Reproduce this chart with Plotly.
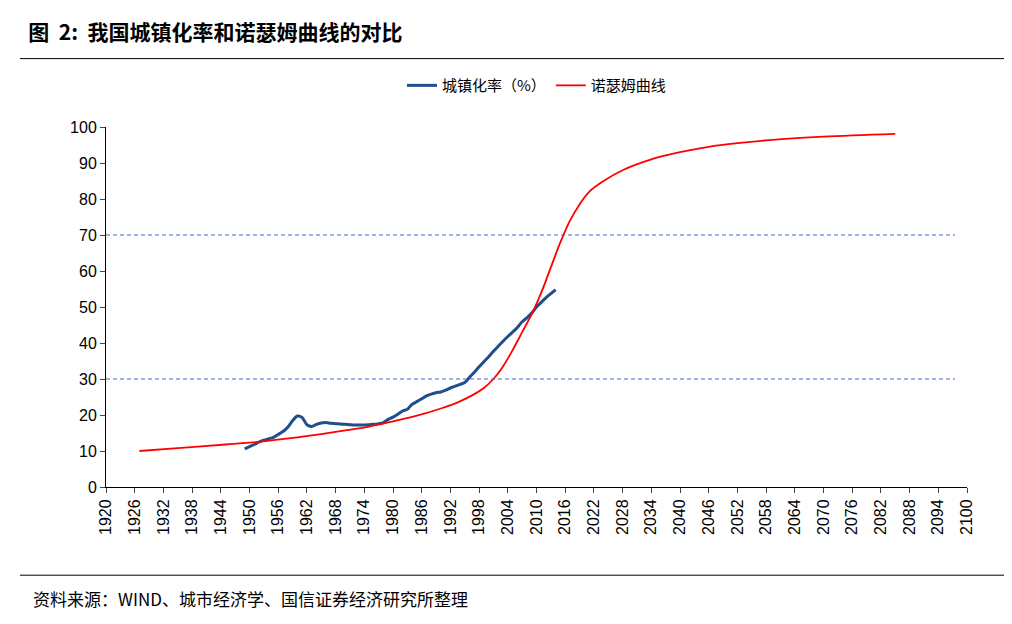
import plotly.graph_objects as go

urb_years = list(range(1949, 2015))
urb_vals = [10.6,11.2,11.8,12.5,13.0,13.4,13.8,14.6,15.4,16.6,18.4,19.7,19.3,17.3,16.8,17.4,17.8,17.9,17.7,17.6,17.5,17.4,17.3,17.2,17.2,17.2,17.3,17.4,17.6,17.9,18.8,19.4,20.2,21.1,21.6,23.0,23.7,24.5,25.3,25.8,26.2,26.4,26.9,27.5,28.0,28.5,29.0,30.5,31.9,33.4,34.8,36.2,37.7,39.1,40.5,41.8,43.0,44.3,45.9,47.0,48.3,50.0,51.3,52.6,53.7,54.8]
nor_years = [1927,1935,1945,1950,1955,1960,1965,1970,1975,1980,1985,1990,1994,1997,1999,2001,2003,2005,2007,2009,2011,2013,2015,2017,2019,2021,2024,2028,2034,2040,2046,2052,2060,2070,2085]
nor_vals = [10,10.8,11.8,12.3,13,13.8,14.7,15.7,16.8,18.2,19.8,21.8,23.8,25.8,27.5,30,33.5,38,43,48,54,61,68,74,78.5,82,85,88,91,93,94.5,95.5,96.5,97.3,98.1]
ref_levels = [30, 70]
x_ticks = list(range(1920, 2101, 6))

fig = go.Figure()
fig.add_trace(go.Scatter(x=urb_years, y=urb_vals, mode="lines", name="城镇化率（%）",
                         line=dict(color="#1F4E8C", width=3, shape="spline", smoothing=0.8)))
fig.add_trace(go.Scatter(x=nor_years, y=nor_vals, mode="lines", name="诺瑟姆曲线",
                         line=dict(color="#FF0000", width=1.8, shape="spline")))
for lv in ref_levels:
    fig.add_trace(go.Scatter(x=[1920, 2097.5], y=[lv, lv], mode="lines", showlegend=False,
                             line=dict(color="#3B6FC4", width=1.2, dash="4px,3px"), hoverinfo="skip"))

fig.update_layout(
    width=1012, height=624, paper_bgcolor="white", plot_bgcolor="white",
    margin=dict(l=98, r=53, t=119, b=145),
    font=dict(family="Liberation Sans, Noto Sans CJK SC", size=16, color="black"),
    title=dict(text="<b>图  2:  我国城镇化率和诺瑟姆曲线的对比</b>", x=0.02, xanchor="left",
               y=0.96, yanchor="middle", yref="container",
               font=dict(size=21, family="Noto Sans CJK SC", color="black")),
    legend=dict(orientation="h", x=0.5, xanchor="center", y=1.115, yanchor="middle",
                font=dict(size=15, family="Noto Sans CJK SC")),
    xaxis=dict(range=[1920, 2100], tickvals=x_ticks, tickangle=-90, showline=True,
               linecolor="black", ticks="outside", ticklen=5, showgrid=False, zeroline=False),
    yaxis=dict(range=[0, 100], dtick=10, showline=True, linecolor="black", ticks="outside",
               ticklen=5, showgrid=False, zeroline=False),
    annotations=[
        dict(text="资料来源：WIND、城市经济学、国信证券经济研究所整理", xref="paper", yref="paper",
             x=-0.087, y=-0.31, xanchor="left", yanchor="middle", showarrow=False,
             font=dict(size=17, family="Noto Sans CJK SC")),
    ],
    shapes=[
        dict(type="line", xref="paper", yref="paper", x0=-0.1, x1=1.065, y0=1.19, y1=1.19,
             line=dict(color="black", width=1)),
        dict(type="line", xref="paper", yref="paper", x0=-0.1, x1=1.065, y0=-0.245, y1=-0.245,
             line=dict(color="black", width=1)),
    ],
)
fig.write_html("out.html")
